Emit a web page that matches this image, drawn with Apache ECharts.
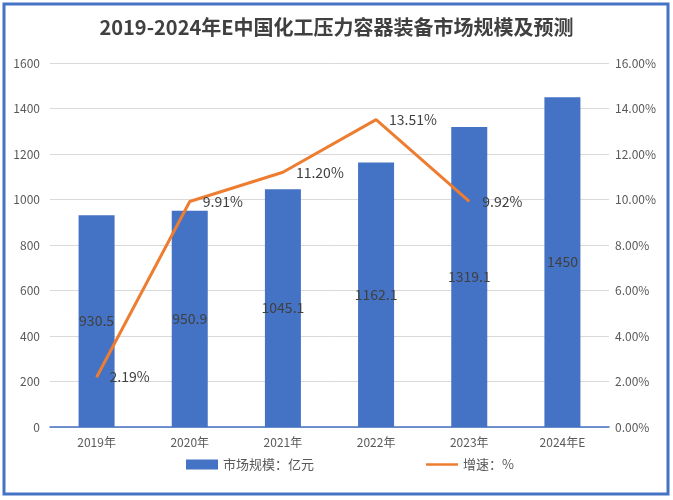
<!DOCTYPE html>
<html>
<head>
<meta charset="utf-8">
<script src="https://cdn.jsdelivr.net/npm/echarts@6/dist/echarts.min.js"></script>
<style>
  html, body { margin: 0; padding: 0; background: #fff; }
  #chart { width: 673px; height: 500px; }
</style>
</head>
<body>
<div id="chart"></div>
<script>
var years = ['2019年', '2020年', '2021年', '2022年', '2023年', '2024年E'];
var marketSize = [930.5, 950.9, 1045.1, 1162.1, 1319.1, 1450];
var growthRate = [2.19, 9.91, 11.20, 13.51, 9.92, null];

var font = 'Noto Sans CJK SC';
var myChart = echarts.init(document.getElementById('chart'));
var option = {
	animation: false,
	textStyle: { fontFamily: font },
	title: {
		text: '2019-2024年E中国化工压力容器装备市场规模及预测',
		left: 'center',
		top: 12,
		textStyle: { fontSize: 20, fontWeight: 'bold', color: '#404040', fontFamily: font }
	},
	graphic: [{
		type: 'rect',
		shape: { x: 4, y: 4, width: 664, height: 490 },
		style: { fill: 'none', stroke: '#4472C4', lineWidth: 3 },
		z: 100
	}],
	legend: {
		bottom: 24,
		left: 181,
		itemGap: 112,
		itemWidth: 32,
		itemHeight: 10,
		textStyle: { color: '#595959', fontSize: 13 },
		data: [
			{ name: '市场规模：亿元', icon: 'rect' },
			{ name: '增速：%', icon: 'path://M0,0 H40 V3 H0 Z' }
		]
	},
	grid: { left: 50, right: 64, top: 63, bottom: 73, containLabel: false },
	xAxis: {
		type: 'category',
		data: years,
		axisLine: { lineStyle: { color: '#4472C4', width: 1.5 } },
		axisTick: { show: false },
		axisLabel: { color: '#595959', fontSize: 12, margin: 9 }
	},
	yAxis: [
		{
			type: 'value',
			min: 0,
			max: 1600,
			interval: 200,
			axisLine: { show: false },
			axisTick: { show: false },
			axisLabel: {
				color: '#595959', fontSize: 12, margin: 10,
				formatter: function (v) { return String(v); }
			},
			splitLine: { lineStyle: { color: '#d9d9d9' } }
		},
		{
			type: 'value',
			min: 0,
			max: 16,
			interval: 2,
			axisLine: { show: false },
			axisTick: { show: false },
			axisLabel: {
				color: '#595959', fontSize: 12, margin: 6,
				formatter: function (v) { return v.toFixed(2) + '%'; }
			},
			splitLine: { show: false }
		}
	],
	series: [
		{
			name: '市场规模：亿元',
			type: 'bar',
			data: marketSize,
			barWidth: 36,
			itemStyle: { color: '#4472C4' },
			label: {
				show: true,
				position: 'inside',
				color: '#404040',
				fontSize: 14,
				formatter: function (p) { return String(p.value); }
			}
		},
		{
			name: '增速：%',
			type: 'line',
			yAxisIndex: 1,
			data: growthRate,
			symbol: 'circle',
			symbolSize: 0,
			showSymbol: true,
			lineStyle: { color: '#ED7D31', width: 3 },
			itemStyle: { color: '#ED7D31' },
			label: {
				show: true,
				position: 'right',
				distance: 13,
				color: '#404040',
				fontSize: 14,
				formatter: function (p) { return p.value.toFixed(2) + '%'; }
			}
		}
	]
};
myChart.setOption(option);
</script>
</body>
</html>
